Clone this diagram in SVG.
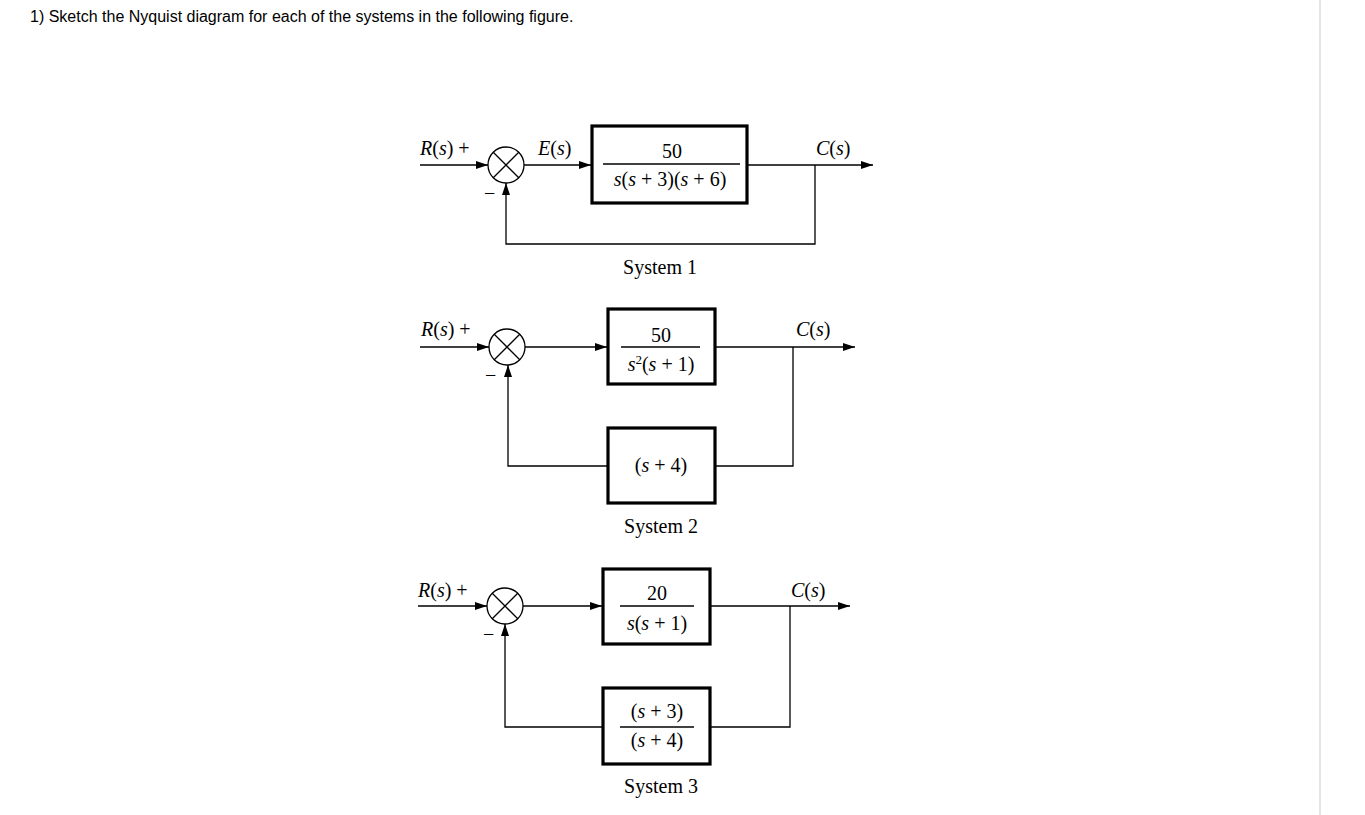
<svg xmlns="http://www.w3.org/2000/svg" width="1365" height="815" viewBox="0 0 1365 815">
<defs>
<marker id="ar" markerWidth="12" markerHeight="8" refX="12" refY="4" orient="auto" markerUnits="userSpaceOnUse"><path d="M0,0 L12,4 L0,8 z" fill="#000"/></marker>
<style>
.l{stroke:#000;stroke-width:1.3;fill:none}
.b{stroke:#000;stroke-width:3.2;fill:#fff}
.s{stroke:#000;stroke-width:1.3;fill:#fff}
.t{font-family:"Liberation Serif",serif;font-size:20px;fill:#000}
.i{font-style:italic}
.c{text-anchor:middle}
.h{font-family:"Liberation Sans",Arial,sans-serif;font-size:16px;fill:#000}
</style>
</defs>
<rect width="1365" height="815" fill="#fff"/>
<line x1="1320" y1="0" x2="1320" y2="815" stroke="#e4e4e4" stroke-width="2"/>
<text class="h" x="30" y="22">1) Sketch the Nyquist diagram for each of the systems in the following figure.</text>

<g id="connectors">
<line class="l" x1="420" y1="165" x2="488" y2="165" marker-end="url(#ar)"/>
<line class="l" x1="524" y1="165" x2="591" y2="165" marker-end="url(#ar)"/>
<line class="l" x1="748" y1="165" x2="873" y2="165" marker-end="url(#ar)"/>
<polyline class="l" points="815,165 815,244 506,244 506,183" marker-end="url(#ar)"/>

<line class="l" x1="420" y1="347" x2="489" y2="347" marker-end="url(#ar)"/>
<line class="l" x1="525" y1="347" x2="607" y2="347" marker-end="url(#ar)"/>
<line class="l" x1="716" y1="347" x2="855" y2="347" marker-end="url(#ar)"/>
<polyline class="l" points="793,347 793,466 716,466"/>
<polyline class="l" points="607,466 508,466 508,365" marker-end="url(#ar)"/>

<line class="l" x1="418" y1="606" x2="487" y2="606" marker-end="url(#ar)"/>
<line class="l" x1="523" y1="606" x2="602" y2="606" marker-end="url(#ar)"/>
<line class="l" x1="711" y1="606" x2="850" y2="606" marker-end="url(#ar)"/>
<polyline class="l" points="790,606 790,727 711,727"/>
<polyline class="l" points="602,727 505,727 505,624" marker-end="url(#ar)"/>
</g>

<g id="sum1"><circle class="s" cx="506" cy="165" r="18"/><path class="l" d="M493,152 L519,178 M519,152 L493,178"/></g>
<g id="sum2"><circle class="s" cx="507" cy="347" r="18"/><path class="l" d="M494,334 L520,360 M520,334 L494,360"/></g>
<g id="sum3"><circle class="s" cx="505" cy="606" r="18"/><path class="l" d="M492,593 L518,619 M518,593 L492,619"/></g>

<g id="g1"><rect class="b" x="592" y="126" width="155" height="77"/>
<line class="l" x1="603" y1="164" x2="740" y2="164"/>
<text class="t c" x="672" y="158">50</text>
<text class="t c" x="670" y="186"><tspan class="i">s</tspan>(<tspan class="i">s</tspan> + 3)(<tspan class="i">s</tspan> + 6)</text></g>

<g id="g2"><rect class="b" x="608" y="309" width="107" height="75"/>
<line class="l" x1="621" y1="347" x2="700" y2="347"/>
<text class="t c" x="661" y="342">50</text>
<text class="t c" x="661" y="371"><tspan class="i">s</tspan><tspan font-size="13" dy="-7">2</tspan><tspan dy="7">(</tspan><tspan class="i">s</tspan> + 1)</text></g>

<g id="h2"><rect class="b" x="608" y="428" width="107" height="75"/>
<text class="t c" x="661" y="472">(<tspan class="i">s</tspan> + 4)</text></g>

<g id="g3"><rect class="b" x="603" y="569" width="107" height="75"/>
<line class="l" x1="620" y1="606" x2="694" y2="606"/>
<text class="t c" x="657" y="600">20</text>
<text class="t c" x="657" y="630"><tspan class="i">s</tspan>(<tspan class="i">s</tspan> + 1)</text></g>

<g id="h3"><rect class="b" x="603" y="688" width="107" height="76"/>
<line class="l" x1="620" y1="727" x2="694" y2="727"/>
<text class="t c" x="657" y="718">(<tspan class="i">s</tspan> + 3)</text>
<text class="t c" x="657" y="747">(<tspan class="i">s</tspan> + 4)</text></g>

<g id="labels">
<text class="t" x="420" y="155"><tspan class="i">R</tspan>(<tspan class="i">s</tspan>) +</text>
<text class="t" x="538" y="155"><tspan class="i">E</tspan>(<tspan class="i">s</tspan>)</text>
<text class="t" x="816" y="155"><tspan class="i">C</tspan>(<tspan class="i">s</tspan>)</text>
<text class="t" x="484" y="200">−</text>
<text class="t c" x="660" y="274">System 1</text>

<text class="t" x="421" y="336"><tspan class="i">R</tspan>(<tspan class="i">s</tspan>) +</text>
<text class="t" x="796" y="336"><tspan class="i">C</tspan>(<tspan class="i">s</tspan>)</text>
<text class="t" x="485" y="382">−</text>
<text class="t c" x="661" y="533">System 2</text>

<text class="t" x="418" y="597"><tspan class="i">R</tspan>(<tspan class="i">s</tspan>) +</text>
<text class="t" x="791" y="597"><tspan class="i">C</tspan>(<tspan class="i">s</tspan>)</text>
<text class="t" x="483" y="641">−</text>
<text class="t c" x="661" y="793">System 3</text>
</g>
</svg>
